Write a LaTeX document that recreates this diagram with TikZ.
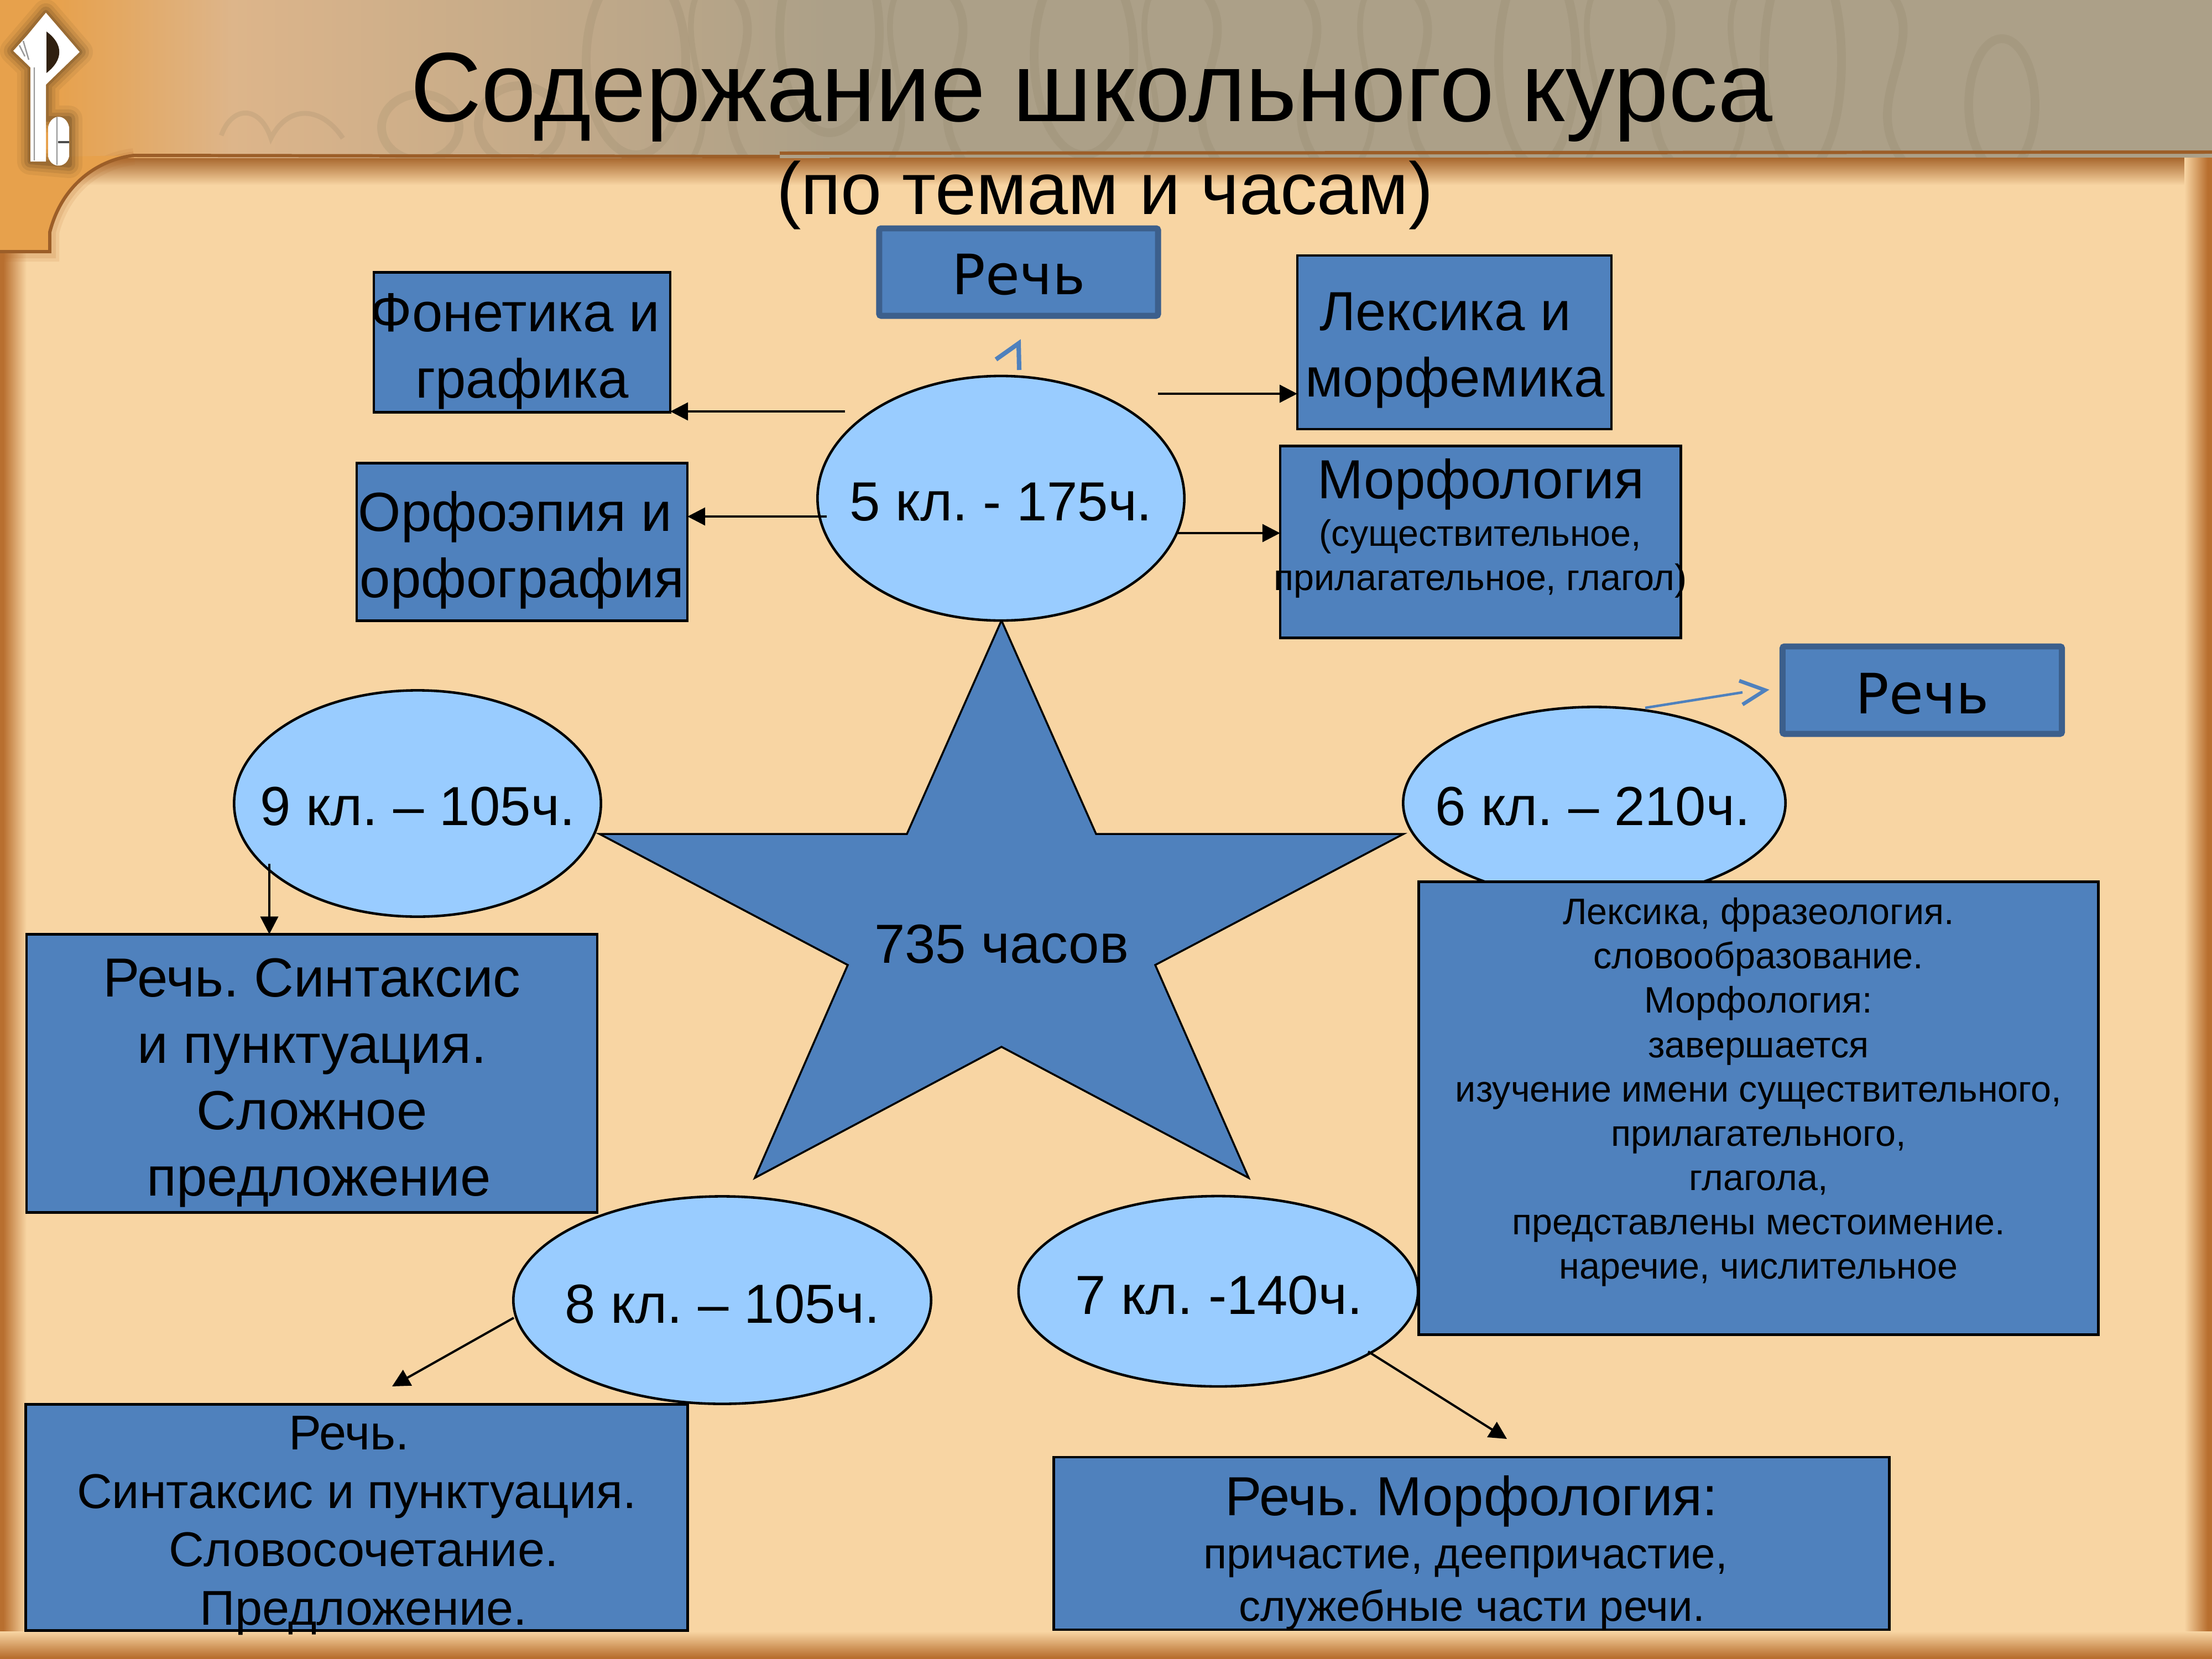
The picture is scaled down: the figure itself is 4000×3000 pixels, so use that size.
\documentclass[tikz,border=0pt]{standalone}
\usepackage{fontspec}
\setmainfont{Liberation Sans}
\newfontfamily\djvfont{DejaVu Sans}
\usetikzlibrary{shapes.geometric,arrows.meta,calc}
\definecolor{panel}{HTML}{F8D5A3}
\definecolor{boxblue}{HTML}{4F81BD}
\definecolor{boxdark}{HTML}{3C5F8C}
\definecolor{ellblue}{HTML}{99CCFF}
\definecolor{frameor}{HTML}{B86F2F}
\definecolor{cornor}{HTML}{E7A14C}
\definecolor{headmid}{HTML}{DDB58A}
\definecolor{headgrey}{HTML}{ACA088}
\definecolor{inkwater}{HTML}{7F7458}
\newcommand\fsz[2]{\fontsize{#1}{#2}\selectfont}
\frenchspacing
\tikzset{
  bluebox/.style={draw=black,fill=boxblue,line width=1.3pt,inner sep=0pt,outer sep=0pt},
  talkbox/.style={draw=boxdark,fill=boxblue,line width=3.1pt,rounded corners=1pt,inner sep=0pt,outer sep=0pt},
  oval/.style={draw=black,fill=ellblue,ellipse,line width=1.3pt,inner sep=0pt,outer sep=0pt},
  txt/.style={align=center,inner sep=0pt,text=black,font=\fsz{28.3}{34.1}},
  smalltxt/.style={align=center,inner sep=0pt,text=black,font=\fsz{18.9}{22.8}},
  midtxt/.style={align=center,inner sep=0pt,text=black,font=\fsz{25.1}{30}},
  subtxt/.style={align=center,inner sep=0pt,text=black,font=\fsz{22.2}{26.8}},
  arr/.style={draw=black,line width=1.15pt,-{Triangle[length=0.32cm,width=0.32cm]}},
  bluearr/.style={draw=boxblue,line width=1.9pt},
  water/.style={draw=inkwater,opacity=0.15,line width=4.5pt},
}
\begin{document}
\begin{tikzpicture}[x=0.01cm,y=-0.01cm]
\useasboundingbox (0,0) rectangle (4000,3000);
% --- background ---
\fill[panel] (0,0) rectangle (4000,3000);
\shade[top color=frameor!90!black,bottom color=panel] (90,284) rectangle (3950,335);
\fill[frameor] (0,440) rectangle (6,3000);
\shade[left color=frameor,right color=panel] (6,440) rectangle (48,3000);
\shade[right color=frameor,left color=panel] (3950,280) rectangle (3992,3000);
\fill[frameor] (3992,280) rectangle (4000,3000);
\shade[top color=panel,bottom color=frameor] (0,2950) rectangle (4000,2997);
\fill[frameor] (0,2997) rectangle (4000,3000);
% header
\begin{scope}
\clip (0,0) rectangle (4000,285);
\fill[headgrey] (0,0) rectangle (4000,285);
\fill[cornor] (0,0) rectangle (100,285);
\shade[left color=cornor,right color=headmid] (100,0) rectangle (420,285);
\shade[left color=headmid,right color=headgrey] (420,0) rectangle (1500,285);
% calligraphic watermark
\foreach \cx/\cy/\rx/\ry in {1150/110/90/170, 1500/60/90/180, 1960/100/90/180, 2780/110/70/190, 3260/110/70/200, 3620/190/60/120, 760/230/70/60, 940/225/75/70}
  \draw[water] (\cx,\cy) ellipse[x radius=\rx,y radius=\ry];
\foreach \sx in {1330,1720,2180,2360,2560,3000,3420}
  \draw[water] (\sx,-10) .. controls (\sx+70,80) and (\sx-60,180) .. (\sx+20,290);
\foreach \sx in {1260,1620,2080,2470,2880,3140}
  \draw[water,line width=3pt] (\sx,-10) .. controls (\sx-40,90) and (\sx+50,190) .. (\sx-10,290);
\draw[water,line width=2.5pt] (400,245) .. controls (420,190) and (470,190) .. (490,250) .. controls (520,190) and (580,190) .. (620,250);
\end{scope}
% corner
\foreach \w/\o in {30/.12,18/.16}
 \draw[frameor,line width=\w*0.2845pt,opacity=\o] (0,458) -- (92,458) -- (92,420) .. controls (112,342) and (170,292) .. (242,283);
\fill[cornor] (0,285) -- (242,281) .. controls (170,290) and (110,340) .. (90,420) -- (90,455) -- (0,455) -- cycle;
\draw[frameor!85!black,line width=1.7pt] (0,455) -- (90,455) -- (90,420) .. controls (110,340) and (170,290) .. (242,281) -- (1410,283) (1410,277) -- (4000,275);
% logo
\foreach \w/\o in {48/.07,34/.10,22/.14,10/.2}
 \draw[black!70!brown,line width=\w*0.2845pt,opacity=\o,line join=round] (83,23) -- (144,94) -- (83,153) -- (83,215) -- (125,215) -- (125,298) -- (55,292) -- (55,122) -- (24,92) -- cycle;
\fill[white] (83,23) -- (144,94) -- (83,153) -- (83,292) -- (55,292) -- (55,122) -- (24,92) -- (50,63) -- cycle;
\fill[black!75!brown] (84,57) .. controls (115,80) and (115,108) .. (84,132) -- cycle;
\fill[white] (87,230) .. controls (92,205) and (120,205) .. (125,230) -- (125,283) .. controls (120,305) and (92,305) .. (87,283) -- cycle;
\draw[gray!80,line width=.7pt] (62,122) -- (62,290) (35,82) -- (45,102) (42,74) -- (52,108) (103,212) -- (103,298);
\draw[black!70,line width=1.2pt] (105,257) -- (125,257);
% --- title ---
\node[txt,font=\fsz{50.6}{56}] (title) at (1974,176) {Содержание школьного курса};
\node[txt,font=\fsz{37.9}{42}] (subtitle) at (1998,353) {(по темам и часам)};
% --- star ---
\filldraw[fill=boxblue,draw=black,line width=1pt,line join=miter]
 (1811,1122) -- (1982,1508) -- (2538,1508) -- (2089,1745) -- (2258,2130) -- (1811,1893)
 -- (1365,2130) -- (1533,1745) -- (1084,1508) -- (1640,1508) -- cycle;
\node[txt] (starlabel) at (1811,1707) {735 часов};
% --- top ring ---
\node[oval,minimum width=6.63cm,minimum height=4.42cm] (e5) at (1810,901) {};
\node[txt] (t5) at (1810,908) {5 кл. - 175ч.};
\node[bluebox,minimum width=5.36cm,minimum height=2.53cm] (fon) at (944,619) {};
\node[txt] (tfon) at (944,635) {Фонетика и\hspace*{0.25cm}\\графика};
\node[bluebox,minimum width=5.98cm,minimum height=2.85cm] (orf) at (944,980) {};
\node[txt] (torf) at (944,995) {Орфоэпия и\hspace*{0.25cm}\\орфография};
\node[bluebox,minimum width=5.68cm,minimum height=3.14cm] (lex) at (2630,619) {};
\node[txt] (tlex) at (2631,634) {Лексика и\hspace*{0.35cm}\\морфемика};
\node[bluebox,minimum width=7.24cm,minimum height=3.47cm] (mor) at (2677,980) {};
\node[txt] (tmorh) at (2678,876) {Морфология};
\node[smalltxt] (tmors) at (2677,1010) {(существительное,\\прилагательное, глагол)};
\node[talkbox,minimum width=5.04cm,minimum height=1.58cm] (talk1) at (1842,492) {};
\node[txt,font=\djvfont\fsz{28.6}{31}] (ttalk1) at (1842,497) {Речь};
% --- lower ovals ---
\node[oval,minimum width=6.63cm,minimum height=4.09cm] (e9) at (755,1453) {};
\node[txt] (t9) at (755,1458) {9 кл. – 105ч.};
\node[oval,minimum width=6.91cm,minimum height=3.47cm] (e6) at (2883,1452) {};
\node[txt] (t6) at (2880,1458) {6 кл. – 210ч.};
\node[oval,minimum width=7.55cm,minimum height=3.75cm] (e8) at (1306,2351) {};
\node[txt] (t8) at (1306,2358) {8 кл. – 105ч.};
\node[oval,minimum width=7.22cm,minimum height=3.44cm] (e7) at (2203,2335) {};
\node[txt] (t7) at (2204,2342) {7 кл. -140ч.};
\node[talkbox,minimum width=5.05cm,minimum height=1.58cm] (talk2) at (3476,1248) {};
\node[txt,font=\djvfont\fsz{28.6}{31}] (ttalk2) at (3476,1255) {Речь};
\node[bluebox,minimum width=12.28cm,minimum height=8.19cm] (b6) at (3180,2004) {};
\node[smalltxt] (tb6) at (3180,1975) {Лексика, фразеология.\\словообразование.\\Морфология:\hspace*{0.15cm}\\завершается\hspace*{0.15cm}\\изучение имени существительного,\hspace*{0.15cm}\\прилагательного,\hspace*{0.15cm}\\глагола,\\представлены местоимение.\\наречие, числительное};
\node[bluebox,minimum width=10.31cm,minimum height=5.03cm] (b9) at (564,1941) {};
\node[txt] (tb9) at (564,1958) {Речь. Синтаксис\\и пунктуация.\\Сложное\\\hspace*{0.25cm}предложение};
\node[bluebox,minimum width=11.96cm,minimum height=4.09cm] (b8) at (645,2744) {};
\node[midtxt] (tb8) at (645,2759) {\hspace*{-0.28cm}Речь.\\Синтаксис и пунктуация.\\\hspace*{0.25cm}Словосочетание.\\\hspace*{0.25cm}Предложение.};
\node[bluebox,minimum width=15.1cm,minimum height=3.12cm] (b7) at (2661,2791) {};
\node[txt] (tb7h) at (2661,2715) {Речь. Морфология:};
\node[subtxt] (tb7s) at (2650,2871) {причастие, деепричастие,\\\hspace*{0.23cm}служебные части речи.};
% --- connectors ---
\coordinate (s1) at (1528,744);
\coordinate (s2) at (1495,934);
\coordinate (s3) at (2094,712);
\coordinate (s4) at (2130,964);
\coordinate (s5) at (487,1562);
\coordinate (s6) at (929,2383);
\coordinate (d6) at (709,2507);
\coordinate (s7) at (2474,2444);
\coordinate (d7) at (2725,2602);
\draw[arr] (s1) -- (s1 -| fon.east);
\draw[arr] (s2) -- (s2 -| orf.east);
\draw[arr] (s3) -- (s3 -| lex.west);
\draw[arr] (s4) -- (s4 -| mor.west);
\draw[arr] (s5) -- (s5 |- b9.north);
\draw[arr] (s6) -- (d6);
\draw[arr] (s7) -- (d7);
% stray blue arrows
\coordinate (u0) at (1843,669);
\coordinate (u1) at (1842,621);
\coordinate (u2) at (1801,650);
\draw[bluearr,line width=2.3pt,line join=miter] (u0) -- (u1) -- (u2);
\coordinate (r0) at (2975,1280);
\coordinate (r1) at (3151,1252);
\coordinate (r2) at (3145,1231);
\coordinate (r3) at (3192,1248);
\coordinate (r4) at (3151,1274);
\draw[bluearr,line width=1.3pt] (r0) -- (r1);
\draw[bluearr,line join=miter] (r2) -- (r3) -- (r4);
\end{tikzpicture}
\end{document}
